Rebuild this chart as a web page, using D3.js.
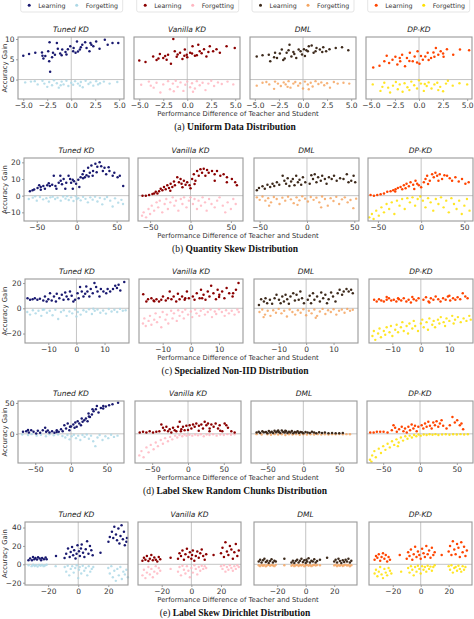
<!DOCTYPE html>
<html>
<head>
<meta charset="utf-8">
<script src="https://cdn.jsdelivr.net/npm/d3@7"></script>
<style>
body { margin: 0; background: #fff; }
svg text { font-family: "DejaVu Sans", sans-serif; }
</style>
</head>
<body>
<script>
// methods (columns) and distributions (rows)
var methods = ["Tuned KD", "Vanilla KD", "DML", "DP-KD"];
var captionTags = ["(a)", "(b)", "(c)", "(d)", "(e)"];
var captionNames = ["Uniform Data Distribution", "Quantity Skew Distribution", "Specialized Non-IID Distribution",
    "Label Skew Random Chunks Distribution", "Label Skew Dirichlet Distribution"];
var legendLabels = ["Learning", "Forgetting"];

// tick labels per row
var xTicks = [[-5, -2.5, 0, 2.5, 5], [-50, 0, 50], [-10, 0, 10], [-50, 0, 50], [-20, 0, 20]];
var yTicks = [[0, 5, 10], [-10, 0, 10, 20], [-20, 0, 20], [0, 50], [-20, 0, 20, 40]];

// ---- (a) uniform ----
var uniTunedL = [[-5.0,5.9],[-4.4,6.3],[-3.75,6.6],[-3.05,6.7],[-3.0,5.9],[-2.9,5.2],[-2.4,7.0],[-2.26,9.2],[-2.3,4.5],[-2.2,1.9],[-1.9,6.6],[-1.5,9.0],[-1.4,7.6],[-1.15,6.4],[-0.94,7.4],[-0.6,6.8],[-0.35,7.5],[-0.1,8.2],[0.25,7.8],[0.45,6.6],[0.6,9.4],[0.9,7.4],[1.15,8.6],[1.45,9.2],[1.6,7.8],[2.1,8.6],[2.3,8.2],[2.6,9.4],[2.95,7.6],[3.5,9.8],[3.8,8.6],[4.3,9.0],[4.9,9.0],[-1.0,6.0],[-0.5,6.2],[0.2,7.0],[1.0,8.0],[-2.0,5.5],[-2.7,5.8],[-1.7,6.1],[0.7,6.9],[1.9,7.0],[2.0,9.0]];
var uniTunedF = [[-4.8,-0.7],[-4.2,-0.5],[-3.5,-1.2],[-3.0,-0.3],[-2.8,-1.0],[-2.5,-1.8],[-2.3,-0.6],[-2.0,-1.4],[-1.8,-0.2],[-1.5,-0.9],[-1.3,-2.0],[-1.0,-0.5],[-0.8,-1.2],[-0.5,-0.3],[-0.3,-1.6],[0.0,-0.8],[0.2,-1.3],[0.4,-0.4],[0.7,-1.0],[1.0,-0.6],[1.2,-1.9],[1.5,-0.3],[1.8,-1.1],[2.0,-0.7],[2.3,-1.5],[2.6,-0.4],[3.0,-0.9],[3.4,-0.5],[4.0,-1.0],[4.8,-0.6],[-3.8,-0.4],[-1.1,-1.4],[0.9,-1.5],[2.8,-1.2]];
var uniVanL = [[-5.0,4.7],[-4.35,4.3],[-3.55,5.7],[-3.2,4.8],[-2.85,6.3],[-2.5,5.3],[-2.15,4.9],[-2.0,6.1],[-1.7,3.9],[-1.45,10.0],[-1.3,7.0],[-1.1,5.6],[-0.75,6.6],[-0.5,5.1],[-0.25,7.4],[-0.05,6.1],[0.3,6.6],[0.55,8.2],[0.8,5.9],[1.15,8.6],[1.3,7.0],[1.75,7.5],[2.0,5.7],[2.35,8.2],[2.7,7.0],[3.05,7.5],[3.4,6.6],[4.1,8.2],[4.95,7.8],[-3.0,5.2],[-2.3,5.8],[-1.0,6.2],[0.0,5.5],[0.5,6.4],[1.0,6.0],[1.5,6.5],[2.2,6.8],[-0.3,5.9]];
var uniVanF = [[-4.8,-1.3],[-4.0,-0.5],[-3.5,-2.0],[-3.2,-0.8],[-2.8,-3.2],[-2.5,-1.2],[-2.0,-0.4],[-1.8,-2.4],[-1.5,-1.0],[-1.2,-0.3],[-1.0,-1.8],[-0.7,-0.7],[-0.4,-2.8],[-0.2,-1.3],[0.0,-0.5],[0.3,-1.9],[0.5,-0.9],[0.8,-2.2],[1.0,-0.4],[1.3,-1.4],[1.6,-0.8],[1.9,-2.6],[2.2,-1.0],[2.5,-0.3],[2.8,-1.6],[3.2,-0.7],[3.6,-1.1],[4.2,-0.5],[4.8,-1.2],[-3.8,-1.5],[0.6,-3.0],[-1.4,-2.9]];
var uniDmlL = [[-4.8,5.7],[-4.2,6.0],[-3.55,6.1],[-3.4,4.5],[-2.9,6.6],[-2.7,5.3],[-2.2,7.4],[-2.05,4.8],[-1.7,6.6],[-1.4,8.6],[-1.2,5.7],[-0.9,6.3],[-0.7,5.3],[-0.45,7.4],[-0.25,7.0],[0.1,7.5],[0.35,7.2],[0.6,8.2],[0.9,8.4],[1.1,6.6],[1.4,7.8],[1.75,7.4],[2.1,8.0],[2.4,7.0],[2.75,7.5],[3.4,7.8],[4.05,8.0],[4.7,7.2],[-3.0,5.5],[-2.4,6.4],[-1.9,5.2],[-1.0,6.8],[-0.1,6.2],[0.5,7.0],[1.3,7.0],[2.0,6.8],[-1.5,7.2],[0.2,5.8]];
var uniDmlF = [[-4.8,-1.5],[-4.2,-0.8],[-3.5,-1.2],[-3.0,-2.3],[-2.9,-0.5],[-2.6,-1.0],[-2.3,-1.6],[-2.0,-0.7],[-1.8,-1.2],[-1.5,-0.4],[-1.3,-2.0],[-1.0,-1.0],[-0.8,-0.6],[-0.5,-1.5],[-0.3,-0.9],[0.0,-2.2],[0.2,-0.5],[0.5,-1.2],[0.8,-0.8],[1.0,-1.7],[1.3,-0.4],[1.6,-1.1],[1.9,-0.7],[2.2,-1.4],[2.5,-0.9],[2.8,-2.0],[3.2,-0.6],[3.6,-1.0],[4.2,-0.8],[4.8,-1.0],[-3.8,-0.6],[-1.6,-1.8],[0.6,-2.4]];
var uniDpL = [[-4.75,3.0],[-4.1,3.4],[-3.35,5.9],[-3.1,4.1],[-2.75,4.9],[-2.45,5.6],[-2.25,3.7],[-1.95,4.5],[-1.75,6.1],[-1.45,3.3],[-1.25,5.3],[-0.95,6.6],[-0.65,4.5],[-0.45,5.7],[-0.15,7.0],[0.05,3.9],[0.4,4.9],[0.65,5.7],[0.9,6.6],[1.25,5.3],[1.5,6.7],[1.75,7.8],[2.0,6.1],[2.25,7.0],[2.55,5.6],[2.9,7.5],[3.55,6.1],[4.25,7.4],[5.2,7.2],[-3.6,4.5],[-2.0,5.3],[-1.0,4.6],[0.2,5.8],[1.0,4.8],[1.6,5.6],[-0.2,4.2],[2.5,6.4]];
var uniDpF = [[-4.8,-1.2],[-4.0,-2.8],[-3.6,-0.8],[-3.2,-2.0],[-3.0,-3.2],[-2.7,-1.5],[-2.4,-0.6],[-2.2,-2.4],[-2.0,-1.2],[-1.7,-3.0],[-1.5,-0.9],[-1.2,-1.9],[-1.0,-2.6],[-0.8,-0.5],[-0.5,-1.4],[-0.2,-2.2],[0.0,-0.2],[0.2,-1.0],[0.5,-2.8],[0.8,-1.6],[1.0,-0.7],[1.3,-2.2],[1.6,-1.2],[1.9,-0.8],[2.2,-1.8],[2.5,-2.9],[2.8,-1.0],[3.0,-0.3],[3.5,-1.5],[4.2,-0.9],[5.0,-1.2],[-3.8,-1.8],[0.6,-1.1],[2.0,-2.6]];

// ---- (b) quantity skew ----
var qtyTunedL = [[-58.6,2.7],[-55.3,3.3],[-53.3,3.7],[-49,4.6],[-47,6.2],[-45,5.2],[-41.8,5.8],[-39.8,4.2],[-36.9,6.2],[-33.6,5.8],[-30.7,6.5],[-28.7,11.9],[-26.6,5.8],[-25.4,4.2],[-22.5,7.7],[-20.5,11.9],[-18.4,6.9],[-16.4,10.0],[-14.3,4.2],[-13.1,7.7],[-10.2,11.9],[-8.2,10.0],[-7.0,7.7],[-4.9,4.2],[-3.3,8.7],[-0.8,7.1],[3.3,5.2],[4.9,11.0],[7.4,12.9],[9.0,14.8],[10.2,11.0],[12.3,12.3],[14.3,16.7],[16.4,13.8],[18.4,18.1],[20.5,14.8],[23.4,19.2],[25.8,17.3],[28.7,20.0],[30.7,17.7],[32.8,14.8],[34.8,16.7],[36.9,12.9],[41,14.8],[45.1,11.9],[47.1,13.8],[51.2,11.0],[54,11.9],[58.2,5.8],[-5,9.5],[2,9.5],[8,10.5],[15,11.5],[25,14],[-20,9],[-35,7.5],[-45,3.5],[40,17],[20,12]];
var qtyTunedF = [[-60,-2],[-55,-1.2],[-50,-3],[-46,-0.8],[-42,-2.2],[-38,-1.5],[-35,-3.5],[-30,-0.6],[-27,-2.0],[-24,-1.2],[-20,-3.0],[-17,-0.5],[-14,-1.8],[-10,-2.6],[-7,-1.0],[-4,-3.2],[-1,-0.4],[2,-1.5],[5,-2.8],[8,-0.7],[11,-1.9],[14,-4.0],[17,-1.0],[20,-2.4],[23,-0.6],[26,-3.5],[29,-1.3],[32,-5.2],[35,-2.0],[38,-0.8],[42,-3.0],[45,-6.5],[48,-1.6],[52,-4.2],[56,-2.5],[58,-5.0],[-52,-0.4],[-33,-1.0],[-12,-0.3],[0,-2.0]];
var qtyVanL = [[-59.4,0],[-55.3,0],[-51.2,0.4],[-47.1,1.0],[-45,1.3],[-43,2.3],[-41,1.3],[-38.9,2.7],[-36.9,4.2],[-34.8,3.3],[-32.8,5.2],[-30.7,3.8],[-28.7,6.2],[-26.6,4.6],[-24.6,7.1],[-22.5,5.2],[-20.5,8.5],[-19.3,6.2],[-16.4,11.0],[-14.3,8.1],[-12.3,10.0],[-11.1,7.1],[-8.2,9.0],[-6.1,6.5],[-4.1,8.1],[-1.2,6.2],[2.0,10.0],[4.1,12.9],[6.1,9.0],[8.2,14.8],[10.2,11.9],[12.3,15.8],[14.3,13.8],[16.4,16.2],[18.4,11.9],[20.5,15.4],[22.5,13.8],[26.6,14.8],[29.9,12.9],[32.8,14.8],[36.9,11.9],[41,12.9],[45.1,11.0],[51.2,10.0],[55.3,8.1],[57.4,6.2],[-10,5],[0,4.5],[5,7],[-25,3],[30,9],[45,8]];
var qtyVanF = [[-60,-12],[-58,-10],[-55,-13],[-52,-8],[-50,-11],[-48,-6],[-45,-9],[-42,-4],[-40,-7],[-38,-3],[-35,-10],[-32,-5],[-30,-2],[-28,-8],[-25,-4],[-22,-1],[-20,-6],[-18,-3],[-15,-9],[-12,-2],[-10,-5],[-8,-1],[-5,-7],[-2,-3],[0,-1],[3,-5],[5,-2],[8,-8],[10,-3],[13,-6],[15,-1],[18,-4],[20,-9],[23,-2],[26,-5],[30,-7],[33,-3],[36,-1],[40,-6],[43,-10],[46,-4],[50,-8],[53,-2],[56,-5]];
var qtyDmlL = [[-53,3.3],[-50.7,4.6],[-47,5.6],[-44.6,4.2],[-41.8,6.5],[-38.9,5.2],[-36.4,7.1],[-34.6,5.8],[-31.8,8.1],[-29.3,6.5],[-25.7,11.9],[-23.9,9.0],[-22.1,7.1],[-20.4,10.4],[-18.6,5.8],[-16.8,8.5],[-15,10.0],[-13.2,6.2],[-11.4,11.9],[-9.6,8.1],[-7.9,9.6],[-6.1,6.5],[-4.3,11.0],[-1.8,8.1],[2.9,7.1],[4.6,12.3],[6.4,10.0],[8.2,12.9],[10,8.1],[11.8,11.0],[14.6,9.0],[16.1,11.9],[18.9,10.0],[20.7,7.1],[23.2,11.0],[26.1,10.0],[28.6,11.9],[31.4,9.0],[35,10.4],[38.6,10.0],[42.1,12.9],[43.9,8.1],[46.8,9.0],[49.3,11.9],[51,8.1]];
var qtyDmlF = [[-53,-1],[-50,-2.5],[-47,-0.5],[-44,-3],[-41,-1.5],[-38,-4],[-35,-0.8],[-32,-2],[-29,-5],[-26,-1.2],[-23,-3],[-20,-0.6],[-17,-2.2],[-14,-4.5],[-11,-1],[-8,-2.8],[-5,-0.4],[-2,-1.8],[1,-3.5],[4,-0.8],[7,-2.5],[10,-1.2],[13,-4],[16,-0.5],[19,-2],[22,-6],[25,-1.5],[28,-3.2],[31,-0.7],[34,-5],[37,-2.2],[40,-1],[43,-4],[46,-2.6],[49,-7.5],[52,-1.8],[-40,-6],[-10,-5.5],[15,-7]];
var qtyDpL = [[-58.5,0.4],[-54.6,0],[-50.8,0.4],[-46.9,0.8],[-43,1.3],[-39.2,2.3],[-35.4,2.7],[-32.3,3.3],[-29.6,3.8],[-26.9,4.6],[-23.8,5.2],[-21.9,3.8],[-20,6.2],[-16.9,7.1],[-14.2,5.6],[-12.3,8.1],[-9.2,6.5],[-6.5,9.0],[-4.6,7.1],[-2.7,6.2],[3.1,8.1],[5,10.0],[6.9,11.9],[10,9.0],[12.7,12.9],[14.6,11.0],[16.5,13.8],[18.5,11.9],[21.5,12.9],[24.2,10.0],[26.9,12.3],[30,11.9],[33.1,10.4],[35.8,9.0],[39.6,11.0],[43.5,8.5],[47.3,10.0],[51.2,7.1],[55,8.1],[-30,2.5],[-18,4.5],[0,5],[8,7],[20,9],[-8,4]];
var qtyDpF = [[-60,-13],[-57,-11],[-55,-14],[-52,-9],[-49,-12],[-46,-7],[-43,-10],[-40,-5],[-37,-8],[-34,-4],[-31,-11],[-28,-3],[-25,-6],[-22,-2],[-19,-8],[-16,-1.5],[-13,-4],[-10,-1],[-7,-6],[-4,-2],[-1,-0.5],[2,-3],[5,-7],[8,-1.5],[11,-4],[14,-9],[17,-2],[20,-5],[23,-1],[26,-7],[29,-3],[32,-10],[35,-1.5],[38,-5],[41,-8],[44,-3],[47,-11],[50,-6],[53,-2],[56,-9]];

// ---- (c) specialized non-iid ----
var speTunedL = [[-17.4,8],[-16.5,6.7],[-15.6,7.2],[-14.8,8],[-13.9,6.7],[-13,7.5],[-11.8,6.1],[-11.2,9.3],[-10.6,5.3],[-10,7.2],[-9.4,12],[-8.8,6.1],[-8,9.3],[-7.3,5.3],[-7,11.5],[-6.1,8],[-5.2,10.7],[-4.6,6.7],[-4,12.5],[-3.5,9.3],[-2.9,7.2],[-2.3,13.3],[-1.7,9.9],[-1.1,5.3],[-0.5,6.7],[0.4,12],[0.8,8],[1.3,16.8],[1.9,13.3],[2.5,9.3],[3.1,11.5],[3.5,17.3],[3.9,13.3],[4.6,9.3],[5.1,15.2],[5.8,12],[6.4,20],[7,16.8],[7.5,13.3],[8.2,9.3],[8.7,15.2],[9.6,13.3],[10.6,12],[11.1,15.2],[12,13.3],[13,15.2],[13.8,17.9],[14.4,16],[15,18.7],[15.6,14.1],[17,20.8]];
var speTunedF = [[-17.5,-3],[-16.5,-5],[-15.5,-1.5],[-14.5,-4],[-13.5,-2],[-12.5,-6],[-11.5,-1],[-10.5,-3.5],[-9.5,-2],[-8.5,-5.5],[-7.5,-1.2],[-6.5,-8.5],[-5.5,-3],[-4.5,-1.5],[-3.5,-6],[-2.5,-2.5],[-1.5,-4],[-0.5,-1],[0.5,-3],[1.5,-5],[2.5,-1.5],[3.5,-2.8],[4.5,-0.8],[5.5,-4.5],[6.5,-2],[7.5,-1],[8.5,-3.5],[9.5,-1.8],[10.5,-4.2],[11.5,-0.6],[12.5,-2.5],[13.5,-1.2],[14.5,-3],[15.5,-0.5],[16.5,-2],[17.5,-1.5],[-12,-1.2],[0,-6.5],[6,-0.4]];
var speVanL = [[-16.9,11.2],[-15.8,5.3],[-15.2,7.2],[-14,8],[-13.2,6.1],[-12.2,7.2],[-11.3,5.3],[-10.5,6.7],[-9.9,9.3],[-8.9,6.1],[-8.1,8],[-7.5,13.3],[-6.9,7.2],[-6.1,9.3],[-5.2,5.3],[-4.6,11.5],[-4,7.2],[-3.1,9.3],[-2.2,6.7],[-1.4,13.3],[-0.7,8],[0.7,9.3],[1.3,6.7],[2.1,12],[3.1,8],[3.6,14.7],[4.5,10.7],[5.2,6.7],[6,13.3],[6.6,9.3],[7.2,17.9],[8,12],[8.9,7.2],[9.5,14.7],[10.1,10.7],[11.1,13.3],[11.9,8],[12.7,16],[13.6,12],[14.8,9.3],[16,14.7],[16.9,20],[-13,5.5],[-2,8],[4,8],[10,9],[15,12]];
var speVanF = [[-17,-12],[-16.5,-8],[-16,-14],[-15,-10],[-14.5,-6],[-14,-13],[-13,-9],[-12.5,-4],[-12,-11],[-11,-7],[-10.5,-15],[-10,-3],[-9,-9],[-8.5,-5],[-8,-12],[-7,-2],[-6.5,-8],[-6,-4],[-5,-10],[-4.5,-1.5],[-4,-6],[-3,-3],[-2.5,-8],[-2,-1],[-1,-5],[0,-2.5],[0.5,-7],[1.5,-1],[2,-4],[3,-6],[3.5,-2],[4.5,-0.5],[5,-5],[6,-3],[7,-1],[7.5,-7],[8.5,-2.5],[9,-4.5],[10,-0.8],[11,-3],[12,-6],[12.5,-1.5],[13.5,-4],[14.5,-2],[15.5,-5],[16.5,-1],[17,-3]];
var speDmlL = [[-17.2,2.7],[-16.4,7.2],[-15.4,5.3],[-14.8,8],[-14.2,4],[-13.2,6.7],[-12.4,3.5],[-11.5,8],[-10.8,10.7],[-9.9,6.7],[-9.3,4],[-8.7,9.3],[-8.1,5.3],[-7.5,10.7],[-6.9,7.2],[-6.3,3.5],[-5.7,9.3],[-4.7,12],[-4.1,6.1],[-3.5,10.7],[-2.7,6.7],[-2.1,13.3],[-1.5,8],[-0.8,4],[0.6,6.7],[1.3,9.9],[1.8,4],[2.5,12],[3,6.7],[4,9.3],[5,5.3],[5.5,12.5],[6.2,8],[7,10.7],[7.6,4],[8.2,7.2],[9.1,12.5],[9.8,9.3],[10.7,5.3],[11.5,12],[12.2,14.7],[13.1,10.7],[13.7,13.3],[14.7,15.2],[15.5,13.3],[16.4,14.7],[17,12]];
var speDmlF = [[-17,-3],[-16,-1],[-15,-5],[-14,-2],[-13,-6],[-12,-1.5],[-11,-3.5],[-10,-0.5],[-9,-4],[-8,-2],[-7,-6.5],[-6,-1],[-5,-3],[-4,-5],[-3,-1.5],[-2,-3.5],[-1,-0.8],[0,-5.5],[1,-2],[2,-4],[3,-1],[4,-6],[5,-2.5],[6,-0.5],[7,-4.5],[8,-1.5],[9,-3],[10,-0.8],[11,-5],[12,-2],[13,-1],[14,-3.5],[15,-0.5],[16,-2],[17,-1.2],[-15.5,-7],[3.5,-7.5]];
var speDpL = [[-16.4,6.7],[-15.5,5.3],[-14.7,7.2],[-13.9,6.1],[-13,5.3],[-12,6.7],[-11.2,8],[-10.4,6.1],[-9.5,6.7],[-8.6,5.3],[-7.7,7.2],[-6.9,6.1],[-6,8],[-5.1,5.3],[-4.3,6.7],[-3.5,4.5],[-2.5,7.2],[-1.6,6.1],[-0.8,8],[0.9,6.7],[1.8,8.8],[2.7,5.3],[3.5,8],[4.4,6.7],[5.2,9.3],[6.1,7.2],[6.9,5.3],[7.8,8],[8.7,6.7],[9.5,9.3],[10.3,6.1],[11.3,8],[12.1,6.7],[12.9,8.8],[13.8,7.2],[14.7,12],[15.6,9.3],[16.4,8],[-12,9],[-3,9],[3,4.5],[10,10],[-8,8]];
var speDpF = [[-17,-22],[-16.5,-18],[-16,-25],[-15,-20],[-14.5,-16],[-14,-23],[-13,-18],[-12.5,-21],[-12,-15],[-11,-19],[-10.5,-14],[-10,-22],[-9,-17],[-8.5,-13],[-8,-19],[-7,-15],[-6.5,-11],[-6,-18],[-5,-14],[-4.5,-20],[-4,-12],[-3,-16],[-2.5,-10],[-2,-14],[-1,-18],[0,-12],[0.5,-9],[1,-15],[2,-11],[2.5,-17],[3,-8],[4,-13],[4.5,-10],[5,-15],[6,-9],[6.5,-12],[7,-7],[8,-11],[8.5,-14],[9,-8],[10,-10],[11,-6],[11.5,-12],[12,-9],[13,-7],[14,-11],[15,-8],[16,-10],[17,-6],[17.5,-9]];

// ---- (d) label skew random chunks ----
var chkTunedL = [[-67,3.2],[-62.5,4.3],[-58.8,2.2],[-55.6,5.9],[-52.3,3.2],[-48.6,0.5],[-46.3,4.8],[-43.1,1.6],[-39.4,5.9],[-36.1,9.7],[-34.7,3.2],[-32.4,5.4],[-30.1,2.2],[-26.4,4.3],[-23.1,1.6],[-19.9,5.9],[-17.1,3.2],[-13.9,7.5],[-11.6,4.3],[-9.3,14],[-6.9,8.6],[-4.6,16.7],[-2.3,5.9],[-1.4,11.3],[3.2,15],[6,18.3],[7.9,11.3],[9.3,20.4],[11.6,16.7],[13.9,14],[16.2,19.4],[18.5,22],[20.8,24.7],[23.1,20.4],[24.5,32.8],[26.4,27.4],[29.2,31.2],[31.5,36.6],[34.7,39.8],[36.1,45.2],[38.4,34.4],[41.7,41.9],[44.9,40.9],[48.6,44.1],[53.2,46.2],[57.9,47.8],[65.7,50.5],[0,12],[5,10],[15,25],[25,28],[30,40],[45,45],[-20,3],[-60,6]];
var chkTunedF = [[-68,-1],[-60,-2],[-55,-0.5],[-48,-3],[-42,-1.5],[-35,-4],[-30,-0.8],[-24,-2.5],[-18,-1],[-12,-3.5],[-8,-6],[-5,-2],[-2,-9],[1,-4],[4,-1.5],[7,-7],[10,-3],[13,-10],[16,-2],[19,-5],[22,-1],[25,-8],[28,-3],[31,-12],[34,-20],[37,-6],[40,-2],[44,-10],[48,-4],[52,-7],[56,-1.5],[60,-5],[65,-3]];
var chkVanL = [[-67.4,2.2],[-62.8,3.2],[-58.1,2.2],[-53.5,4.3],[-48.8,2.2],[-44.2,3.2],[-37.2,15],[-34.9,9.7],[-32.6,5.9],[-30.2,11.3],[-27.9,4.3],[-25.6,7.5],[-23.3,2.2],[-20.9,9.7],[-18.6,5.9],[-16.3,4.3],[-14,11.3],[-11.6,19.4],[-9.3,7.5],[-7,11.3],[-4.7,5.9],[-2.3,12.9],[2.3,14],[4.7,8.6],[7,15],[9.3,11.3],[11.6,16.7],[15.3,12.9],[18.6,15],[20.9,8.6],[23.3,19.4],[25.6,14],[27.9,16.7],[30.2,8.6],[32.6,15],[35.8,11.3],[38.6,16.7],[41.9,8.6],[44.2,14],[47.9,4.3],[51.2,16.7],[53.5,14],[55.8,9.7],[60.5,4.3],[65.1,2.2],[-40,4],[-10,4],[0,6],[15,5],[30,4],[45,5]];
var chkVanF = [[-68,-35],[-65,-28],[-62,-38],[-58,-22],[-55,-30],[-52,-18],[-48,-25],[-45,-14],[-42,-20],[-38,-10],[-35,-16],[-32,-7],[-28,-12],[-25,-5],[-22,-9],[-18,-3],[-15,-6],[-12,-2],[-8,-4],[-5,-1],[-2,-3],[2,-1.5],[6,-3],[10,-1],[14,-2.5],[18,-0.8],[22,-4],[26,-1.2],[30,-2],[35,-0.6],[40,-3],[45,-1],[50,-2],[55,-0.5],[60,-1.5],[65,-0.8]];
var chkDmlL = [[-65,2],[-62,3.5],[-60,1.5],[-57,4],[-55,2.5],[-52,3],[-50,1],[-48,4.5],[-46,2],[-44,3.5],[-42,1.5],[-40,5],[-38,2.5],[-36,4],[-34,3],[-32,1.5],[-30,5.5],[-28,3],[-26,2],[-24,4],[-22,1.5],[-20,3.5],[-18,2],[-16,4.5],[-14,1],[-12,3],[-10,2],[-8,4],[-6,1.5],[-4,3],[-2,2.5],[0,1],[3,3],[6,2],[9,1.5],[12,3.5],[15,2],[18,1],[22,2.5],[26,1.5],[30,2],[35,1],[40,1.5],[45,1],[50,0.8],[55,1.2],[-35,5.5],[-25,4.8]];
var chkDmlF = [[-65,-0.5],[-58,-1],[-50,-0.8],[-45,-1.5],[-40,-0.5],[-35,-1.2],[-30,-0.6],[-25,-1.8],[-20,-0.8],[-15,-1.2],[-10,-0.5],[-5,-1.5],[0,-0.8],[5,-1.2],[10,-0.6],[15,-1],[20,-0.5],[25,-1.3],[30,-0.7],[35,-1],[40,-0.5],[45,-0.8],[50,-0.4],[55,-0.6],[60,-0.5],[65,-0.7]];
var chkDpL = [[-67.6,2.2],[-63,2.2],[-58.6,3.2],[-54.1,3.2],[-49.5,3.2],[-44.1,2.2],[-38.3,5.9],[-36,14],[-33.8,9.7],[-31.5,3.2],[-28.4,7.5],[-24.8,11.3],[-22.5,4.3],[-20.3,8.6],[-18,2.2],[-15.8,11.3],[-13.5,5.9],[-11.3,15],[-9,8.6],[-6.8,12.9],[-4.5,4.3],[-2.3,11.3],[2.3,14],[4.5,8.6],[6.8,16.7],[9,11.3],[11.3,19.4],[13.5,12.9],[15.8,8.6],[18,18.3],[20.3,14],[22.5,20.4],[24.8,11.3],[27,16.7],[29.3,22],[31.5,12.9],[36,8.6],[40.5,14],[44.1,27.4],[47.3,18.3],[50.5,22],[54.1,14],[56.3,16.7],[58.6,7.5]];
var chkDpF = [[-68,-42],[-65,-35],[-62,-28],[-60,-38],[-56,-24],[-53,-31],[-50,-20],[-47,-26],[-44,-16],[-41,-22],[-38,-12],[-35,-18],[-32,-9],[-29,-14],[-26,-6],[-23,-11],[-20,-4],[-17,-8],[-14,-3],[-11,-6],[-8,-2],[-5,-4],[-2,-1],[1,-3],[5,-1],[9,-2],[13,-0.8],[17,-1.5],[21,-0.5],[25,-2],[30,-1],[35,-0.6],[40,-1.5],[45,-0.8],[50,-1.2],[55,-0.5],[60,-1],[65,-0.6],[-66,-45],[-30,-20]];

// ---- (e) label skew dirichlet ----
var dirTunedL = [[-33.1,4.4],[-32,6.2],[-30.8,4.4],[-30.1,8],[-29.2,5.5],[-28.5,6.9],[-27.4,5.1],[-26.7,7.6],[-25.6,6.2],[-24.7,4.4],[-24,6.9],[-22.8,5.5],[-21.7,7.3],[-21,5.5],[-14.8,9.1],[-9.1,6.9],[-8,11.6],[-6.8,17.1],[-5.7,8],[-5,13.5],[-4.1,18.9],[-3.4,9.8],[-2.7,15.3],[-1.8,6.2],[-1.1,11.6],[-0.5,20.7],[0.5,14.2],[1.1,9.1],[1.8,17.1],[2.3,21.5],[3.2,12.7],[4.1,8],[5,16.4],[5.9,25.1],[6.8,11.6],[7.8,20],[8.7,15.3],[9.6,9.8],[14.8,12.7],[20.1,24.4],[21,29.8],[22.4,35.3],[23.3,28.7],[24,40.7],[25.1,32.4],[25.8,26.2],[26.7,38.9],[27.4,22.5],[28.1,30.9],[28.8,42.5],[29.7,27.3],[30.4,35.3],[31,20.7],[32,24.4],[32.4,28.7]];
var dirTunedF = [[-33,-1],[-31,-2],[-30,-0.5],[-29,-1.8],[-28,-1],[-27,-2.5],[-26,-0.8],[-25,-1.5],[-24,-0.6],[-23,-2],[-22,-1.2],[-21,-0.5],[-15,-2],[-9,-3],[-8,-8],[-7,-1.5],[-6,-12],[-5,-5],[-4,-2],[-3,-9],[-2,-4],[-1,-1],[0,-15],[0.5,-6],[1,-3],[2,-10],[3,-1.5],[4,-7],[5,-4],[6,-12],[7,-2],[8,-8],[9,-5],[10,-3],[20,-4],[21,-10],[22,-2],[23,-14],[24,-7],[25,-18],[26,-5],[27,-12],[28,-3],[29,-16],[30,-8],[31,-11],[32,-6],[33,-14]];
var dirVanL = [[-33,4],[-32,7],[-31,5],[-30,9],[-29,3.5],[-28,6],[-27,10],[-26,4.5],[-25,7.5],[-24,5],[-23,3],[-22,8],[-21,5.5],[-14,7],[-9,6],[-8,12],[-7,9],[-6,15],[-5,5],[-4,11],[-3,17],[-2,8],[-1,13],[0,6],[0.5,10],[1,15],[2,4],[3,9],[4,14],[5,7],[6,12],[7,16],[8,9],[9,5],[10,11],[15,10],[20,12],[21,18],[22,8],[23,24],[24,14],[25,10],[26,20],[27,16],[28,6],[29,13],[30,22],[31,9],[32,15]];
var dirVanF = [[-33,-12],[-32,-6],[-31,-15],[-30,-9],[-29,-3],[-28,-11],[-27,-5],[-26,-14],[-25,-8],[-24,-2],[-23,-10],[-22,-4],[-21,-7],[-14,-5],[-9,-8],[-8,-3],[-7,-12],[-6,-1.5],[-5,-6],[-4,-10],[-3,-2],[-2,-7],[-1,-14],[0,-4],[1,-9],[2,-1],[3,-5],[4,-11],[5,-3],[6,-7],[7,-1.5],[8,-5],[9,-2],[10,-4],[20,-2],[21,-5],[22,-1],[23,-8],[24,-3],[25,-6],[26,-1],[27,-4],[28,-7],[29,-2],[30,-5],[31,-1],[32,-3]];
var dirDmlL = [[-33,3],[-32,5],[-31,2],[-30,4.5],[-29,6],[-28,2.5],[-27,4],[-26,1.5],[-25,3.5],[-24,5.5],[-23,2],[-22,4],[-21,3],[-15,6],[-10,2],[-9,4],[-8,1.5],[-7,3.5],[-6,5],[-5,2],[-4,4],[-3,6],[-2,2.5],[-1,4.5],[0,1.5],[0.5,5],[1,3],[2,6.5],[3,2],[4,4],[5,3],[6,5.5],[7,2],[8,3.5],[10,5],[15,7],[20,3],[21,5],[22,2],[23,6],[24,3.5],[25,1.5],[26,4.5],[27,2.5],[28,5],[29,3],[30,6],[31,2],[32,4]];
var dirDmlF = [[-33,-1],[-32,-2],[-31,-0.5],[-30,-1.5],[-29,-0.8],[-28,-2.2],[-27,-1],[-26,-0.4],[-25,-1.6],[-24,-0.7],[-23,-1.2],[-22,-2],[-21,-0.6],[-15,-1],[-10,-1.5],[-9,-0.5],[-8,-2],[-7,-1],[-6,-0.6],[-5,-1.8],[-4,-0.8],[-3,-1.3],[-2,-0.4],[-1,-2.2],[0,-1],[1,-0.6],[2,-1.5],[3,-0.8],[4,-2],[5,-1.1],[6,-0.5],[7,-1.4],[8,-0.7],[10,-1],[20,-1.2],[21,-0.5],[22,-2],[23,-0.8],[24,-1.5],[25,-0.6],[26,-1.8],[27,-1],[28,-0.4],[29,-1.3],[30,-0.7],[31,-2.1],[32,-0.9]];
var dirDpL = [[-33,5],[-32,9],[-31,7],[-30,11],[-29,4],[-28,8],[-27,12],[-26,6],[-25,10],[-24,3],[-23,8],[-22,5],[-15,10],[-10,6],[-9,13],[-8,9],[-7,16],[-6,5],[-5,11],[-4,19],[-3,8],[-2,14],[-1,10],[0,6],[1,17],[2,12],[3,8],[4,20],[5,11],[6,15],[7,7],[8,18],[9,10],[10,13],[15,10],[20,14],[21,20],[22,10],[23,25],[24,16],[25,11],[26,22],[27,18],[28,8],[29,24],[30,13],[31,19],[32,9],[33,15]];
var dirDpF = [[-33,-10],[-32,-6],[-31,-13],[-30,-8],[-29,-3],[-28,-11],[-27,-15],[-26,-5],[-25,-9],[-24,-12],[-23,-4],[-22,-7],[-21,-10],[-14,-8],[-9,-4],[-8,-9],[-7,-2],[-6,-6],[-5,-12],[-4,-3],[-3,-8],[-2,-1.5],[-1,-5],[0,-10],[1,-2],[2,-6],[3,-3],[4,-8],[5,-1.5],[6,-5],[7,-2.5],[8,-7],[9,-3],[10,-1],[20,-2],[21,-6],[22,-1],[23,-9],[24,-4],[25,-3],[26,-7],[27,-1.5],[28,-5],[29,-8],[30,-2],[31,-6],[32,-3]];

// grid of series: [row][col] = [learning, forgetting]
var grid = [
    [[uniTunedL, uniTunedF], [uniVanL, uniVanF], [uniDmlL, uniDmlF], [uniDpL, uniDpF]],
    [[qtyTunedL, qtyTunedF], [qtyVanL, qtyVanF], [qtyDmlL, qtyDmlF], [qtyDpL, qtyDpF]],
    [[speTunedL, speTunedF], [speVanL, speVanF], [speDmlL, speDmlF], [speDpL, speDpF]],
    [[chkTunedL, chkTunedF], [chkVanL, chkVanF], [chkDmlL, chkDmlF], [chkDpL, chkDpF]],
    [[dirTunedL, dirTunedF], [dirVanL, dirVanF], [dirDmlL, dirDmlF], [dirDpL, dirDpF]]
];

// colours per method
var learnColors = ["#191970", "#8b0000", "#3d2a1c", "#ff4500"];
var forgetColors = ["#add8e6", "#ffb6c1", "#f4a460", "#ffe000"];

// panel geometry per row (pixel boxes + axis limits)
var layout = [
    {top: 37, bottom: 99, w: 106, lefts: [18, 134, 250, 366], ydom: [-4.8, 10.5],
        xdom: [[-5.55, 5.5], [-5.55, 5.5], [-5.5, 5.5], [-5.5, 5.5]]},
    {top: 158, bottom: 221, w: 105, lefts: [24, 138, 254, 368], ydom: [-15.2, 22.6],
        xdom: [[-66, 65.5], [-65, 65], [-56, 55], [-61.5, 60]]},
    {top: 279, bottom: 343, w: 104, lefts: [25, 139, 254, 369], ydom: [-27.5, 23.2],
        xdom: [[-18.3, 18.7], [-18.4, 18.5], [-19, 18.9], [-18.2, 18.3]]},
    {top: 401, bottom: 463, w: 106, lefts: [18, 135, 251, 367], ydom: [-47.3, 53.2],
        xdom: [[-74, 74], [-74, 74], [-72.8, 74.7], [-72, 72]]},
    {top: 522, bottom: 585, w: 103, lefts: [25, 138, 254, 369], ydom: [-22.5, 46],
        xdom: [[-35.4, 33.1], [-36, 33.5], [-36.3, 36], [-37, 36.7]]}
];

var W = 474, H = 619;
var svg = d3.select("body").append("svg")
    .attr("width", W)
    .attr("height", H);

// matplotlib style minus sign
function fmtNum(d) {
    var s = (Math.round(d) === d) ? String(d) : d.toFixed(1);
    return s.replace("-", "\u2212");
}
function fmtDec(d) {
    return d.toFixed(1).replace("-", "\u2212");
}

function styleAxis(g) {
    g.select(".domain").remove();
    g.selectAll(".tick line").attr("stroke", "#888").attr("stroke-width", 0.8);
    g.selectAll(".tick text")
        .attr("fill", "#333")
        .style("font-size", "7.5px")
        .style("font-family", "'DejaVu Sans', sans-serif");
}

layout.forEach(function(L, r) {
    var y = d3.scaleLinear().domain(L.ydom).range([L.bottom, L.top]);

    L.lefts.forEach(function(x0, c) {
        var x = d3.scaleLinear().domain(L.xdom[c]).range([x0, x0 + L.w]);
        var g = svg.append("g").attr("class", "panel");

        //zero reference lines
        g.append("line")
            .attr("x1", x(0)).attr("x2", x(0))
            .attr("y1", L.top).attr("y2", L.bottom)
            .attr("stroke", "#b5b5b5").attr("stroke-width", 0.8);
        g.append("line")
            .attr("x1", x0).attr("x2", x0 + L.w)
            .attr("y1", y(0)).attr("y2", y(0))
            .attr("stroke", "#b5b5b5").attr("stroke-width", 0.8);

        //forgetting points then learning points
        g.selectAll(".forget")
            .data(grid[r][c][1])
            .enter()
            .append("circle")
            .attr("class", "forget")
            .attr("cx", function(d) { return x(d[0]); })
            .attr("cy", function(d) { return y(d[1]); })
            .attr("r", 1.2)
            .attr("fill", forgetColors[c])
            .attr("opacity", 0.85);

        g.selectAll(".learn")
            .data(grid[r][c][0])
            .enter()
            .append("circle")
            .attr("class", "learn")
            .attr("cx", function(d) { return x(d[0]); })
            .attr("cy", function(d) { return y(d[1]); })
            .attr("r", 1.25)
            .attr("fill", learnColors[c]);

        //bottom axis
        g.append("g")
            .attr("transform", "translate(0," + L.bottom + ")")
            .call(d3.axisBottom(x).tickValues(xTicks[r]).tickSize(2).tickPadding(1.5)
                .tickFormat(r === 0 ? fmtDec : fmtNum))
            .call(styleAxis);

        //frame
        g.append("rect")
            .attr("x", x0).attr("y", L.top)
            .attr("width", L.w).attr("height", L.bottom - L.top)
            .attr("fill", "none")
            .attr("stroke", "#9a9a9a")
            .attr("stroke-width", 1.1);

        //panel title
        g.append("text")
            .attr("x", x0 + L.w / 2)
            .attr("y", L.top - 5)
            .attr("text-anchor", "middle")
            .style("font-size", "7.5px")
            .style("font-style", "italic")
            .attr("fill", "#222")
            .text(methods[c]);

        //left axis only on the first panel of a row
        if (c === 0) {
            svg.append("g")
                .attr("transform", "translate(" + x0 + ",0)")
                .call(d3.axisLeft(y).tickValues(yTicks[r]).tickSize(2).tickPadding(1.5).tickFormat(fmtNum))
                .call(styleAxis);
        }
    });

    //y label
    svg.append("text")
        .attr("transform", "translate(5," + ((L.top + L.bottom) / 2) + ") rotate(-90)")
        .attr("text-anchor", "middle")
        .attr("dy", "0.35em")
        .style("font-size", "6.8px")
        .attr("fill", "#333")
        .text("Accuracy Gain");

    //x label
    svg.append("text")
        .attr("x", 238)
        .attr("y", L.bottom + 16.5)
        .attr("text-anchor", "middle")
        .style("font-size", "6.8px")
        .attr("fill", "#333")
        .text("Performance Difference of Teacher and Student");

    //caption
    var cap = svg.append("text")
        .attr("x", 235)
        .attr("y", L.bottom + 31)
        .attr("text-anchor", "middle")
        .style("font-family", "'Liberation Serif', 'Times New Roman', serif")
        .style("font-size", "9.5px")
        .attr("fill", "#111");
    cap.append("tspan").text(captionTags[r] + " ");
    cap.append("tspan").style("font-weight", "bold").text(captionNames[r]);
});

// legends on top of each column
var legendLefts = [20.7, 136.7, 252, 367.7];
legendLefts.forEach(function(lx, c) {
    var lg = svg.append("g").attr("transform", "translate(" + lx + ",0)");
    lg.append("rect")
        .attr("x", 0).attr("y", -4)
        .attr("width", 102).attr("height", 16)
        .attr("rx", 2)
        .attr("fill", "#fff")
        .attr("stroke", "#dedede")
        .attr("stroke-width", 0.8);
    [learnColors[c], forgetColors[c]].forEach(function(col, k) {
        var ox = k === 0 ? 8.5 : 56;
        lg.append("circle")
            .attr("cx", ox).attr("cy", 5.3)
            .attr("r", 1.5)
            .attr("fill", col);
        lg.append("text")
            .attr("x", ox + 9)
            .attr("y", 7.6)
            .style("font-size", "6.3px")
            .attr("fill", "#333")
            .text(legendLabels[k]);
    });
});
</script>
</body>
</html>
